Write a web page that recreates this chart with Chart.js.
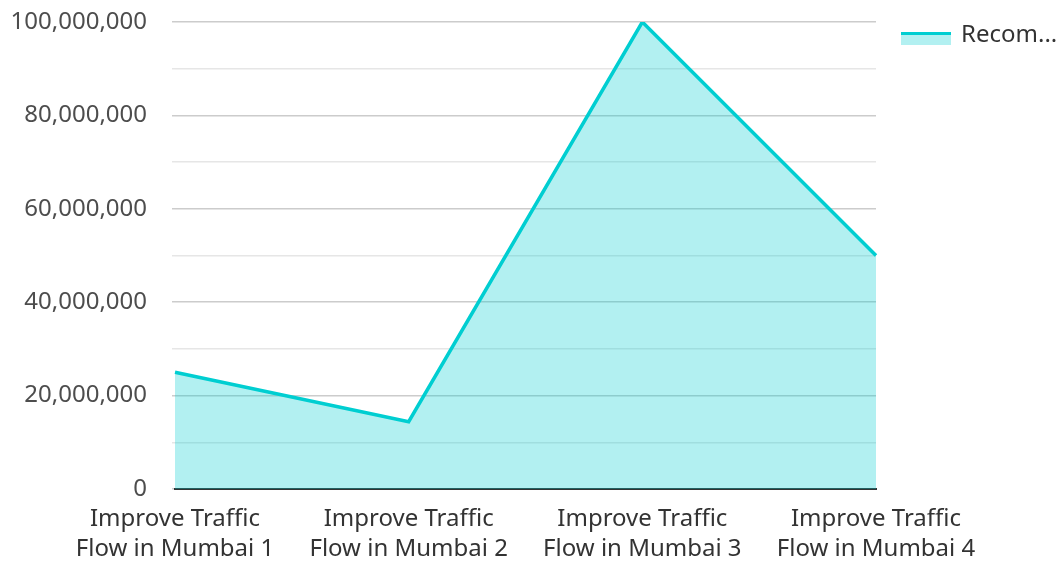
<!DOCTYPE html>
<html>
<head>
<meta charset="utf-8">
<script src="https://cdn.jsdelivr.net/npm/chart.js@4.4.1/dist/chart.umd.min.js"></script>
<style>
  html, body { margin: 0; padding: 0; background: #fff; }
  #wrap { width: 1062px; height: 563px; position: relative; }
</style>
</head>
<body>
<div id="wrap"><canvas id="areaChart"></canvas></div>
<script>
const categories = [
    ['Improve Traffic', 'Flow in Mumbai 1'],
    ['Improve Traffic', 'Flow in Mumbai 2'],
    ['Improve Traffic', 'Flow in Mumbai 3'],
    ['Improve Traffic', 'Flow in Mumbai 4']
];
const seriesName = 'Recom...';
const values = [25000000, 14400000, 100000000, 50000000];

const lineColor = '#00CED1';
const fillColor = 'rgba(0, 206, 209, 0.3)';

// legend drawn by hand: line on top of a filled swatch, like the original
const legendPlugin = {
    id: 'sideLegend',
    afterDraw(chart) {
        const ctx = chart.ctx;
        const x = 901, y = 32;
        ctx.save();
        ctx.fillStyle = fillColor;
        ctx.fillRect(x, y, 50, 13);
        ctx.fillStyle = lineColor;
        ctx.fillRect(x, y, 50, 3);
        ctx.fillStyle = '#333';
        ctx.font = '24px "Noto Sans"';
        ctx.textBaseline = 'middle';
        ctx.fillText(chart.data.datasets[0].label, x + 60, y + 3);
        ctx.restore();
    }
};

const config = {
    type: 'line',
    data: {
        labels: categories,
        datasets: [{
            label: seriesName,
            data: values,
            borderColor: lineColor,
            backgroundColor: fillColor,
            borderWidth: 3.5,
            fill: 'origin',
            tension: 0,
            pointRadius: 0
        }]
    },
    options: {
        responsive: true,
        maintainAspectRatio: false,
        animation: false,
        layout: {
            padding: { left: 0, right: 186, top: 0, bottom: 0 }
        },
        plugins: {
            legend: { display: false },
            tooltip: { enabled: false }
        },
        scales: {
            x: {
                offset: false,
                grid: { display: false, drawTicks: false },
                border: { display: true, color: '#333', width: 2 },
                ticks: {
                    autoSkip: false,
                    maxRotation: 0,
                    padding: 15,
                    color: '#333',
                    font: { family: 'Noto Sans', size: 24, lineHeight: 1.25 }
                },
                afterFit: (s) => { s.height = 74; s.paddingLeft = 0; s.paddingRight = 0; }
            },
            y: {
                min: 0,
                max: 100000000,
                grid: {
                    color: (c) => (c.tick && c.tick.value % 20000000 === 0) ? '#cccccc' : '#e6e6e6',
                    tickLength: 3,
                    lineWidth: 1.5
                },
                border: { display: false },
                ticks: {
                    stepSize: 10000000,
                    padding: 25,
                    color: '#4d4d4d',
                    font: { family: 'Noto Sans', size: 24 },
                    callback: (v) => v % 20000000 === 0 ? v.toLocaleString('en-US') : ''
                },
                afterFit: (s) => { s.width = 175; s.paddingTop = 22; s.paddingBottom = 0; }
            }
        }
    },
    plugins: [legendPlugin]
};

new Chart(document.getElementById('areaChart'), config);
</script>
</body>
</html>
